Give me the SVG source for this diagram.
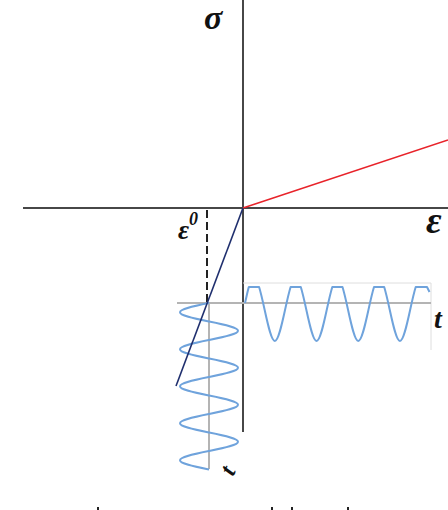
<svg xmlns="http://www.w3.org/2000/svg" width="448" height="510" viewBox="0 0 448 510">
<style>
.lbl{font-family:"Liberation Serif","Times New Roman",serif;font-weight:bold;font-style:italic;fill:#111}
.axis{stroke:#474747;stroke-width:2;fill:none}
.gaxis{stroke:#b4b4b4;stroke-width:2;fill:none}
.frame{stroke:#dedede;stroke-width:1;fill:none}
.wave{stroke:#6fa3dc;stroke-width:2;fill:none;stroke-linejoin:round}
</style>
<rect width="448" height="510" fill="#fff"/>
<g id="connectors">
<line class="axis" x1="243" y1="0" x2="243" y2="432"/>
<line class="axis" x1="23" y1="208" x2="448" y2="208"/>
<line x1="207" y1="210" x2="207" y2="303" stroke="#222" stroke-width="2" stroke-dasharray="8,4"/>
<polyline class="frame" points="243,283 431,283 431,350"/>
<line class="gaxis" x1="177" y1="303" x2="431" y2="303"/>
<line class="gaxis" x1="209" y1="303" x2="209" y2="469"/>
<path class="wave" d="M245,303 C246.5,297 248,289 248.9,287 L259.1,287 c5.25,16.8 10.5,54 15.75,54 c5.25,0 10.5,-37.2 15.75,-54 L300.8,287 c5.25,16.8 10.5,54 15.75,54 c5.25,0 10.5,-37.2 15.75,-54 L342.5,287 c5.25,16.8 10.5,54 15.75,54 c5.25,0 10.5,-37.2 15.75,-54 L384.2,287 c5.25,16.8 10.5,54 15.75,54 c5.25,0 10.5,-37.2 15.75,-54 L427,287 L429.5,292"/>
<path class="wave" d="M209,303 c-16.59,3.37 -29,5.88 -29,9.25 c0,3.37 12.41,5.88 29,9.25 c16.59,3.37 29,5.88 29,9.25 c0,3.37 -12.41,5.880 -29,9.25 c-16.59,3.37 -29,5.88 -29,9.25 c0,3.37 12.41,5.88 29,9.25 c16.59,3.37 29,5.88 29,9.25 c0,3.37 -12.41,5.88 -29,9.25 c-16.59,3.37 -29,5.88 -29,9.25 c0,3.37 12.41,5.88 29,9.25 c16.59,3.37 29,5.88 29,9.25 c0,3.37 -12.41,5.88 -29,9.25 c-16.59,3.37 -29,5.88 -29,9.25 c0,3.37 12.41,5.88 29,9.25 c16.59,3.37 29,5.88 29,9.25 c0,3.37 -12.41,5.88 -29,9.25 c-16.59,3.37 -29,5.88 -29,9.25 c0,3.37 12.41,5.88 29,9.25"/>
<line x1="243" y1="208" x2="448" y2="140" stroke="#e8232a" stroke-width="1.6"/>
<line x1="243" y1="208" x2="176" y2="386" stroke="#1f2f6e" stroke-width="1.6"/>
</g>
<g id="label-sigma"><text class="lbl" x="204" y="29" font-size="34">σ</text></g>
<g id="label-epsilon"><text class="lbl" x="426" y="233" font-size="38">ε</text></g>
<g id="label-epsilon0"><text class="lbl" x="178" y="239" font-size="27">ε<tspan font-size="18" dy="-14">0</tspan></text></g>
<g id="label-t"><text class="lbl" x="434" y="328" font-size="28">t</text></g>
<g id="label-t2"><text class="lbl" x="0" y="0" font-size="24" transform="translate(233,477) rotate(-63)">t</text></g>
<g id="marks" fill="#222">
<rect x="97" y="507" width="2" height="3"/>
<rect x="271" y="507" width="2" height="3"/>
<rect x="291" y="507" width="2" height="3"/>
<rect x="347" y="507" width="2" height="3"/>
</g>
</svg>
